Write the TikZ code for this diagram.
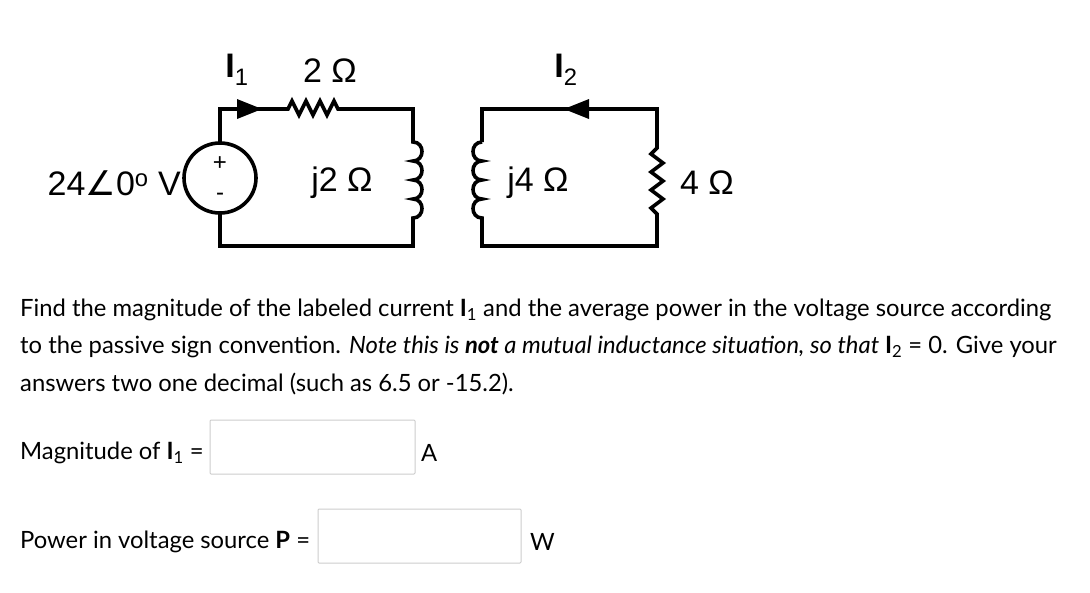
\documentclass[tikz,border=0pt]{standalone}
\usepackage{fontspec}
\setmainfont{Lato}
\newfontfamily\circfont{Liberation Sans}
\newfontfamily\djv{DejaVu Sans}
\begin{document}
\begin{tikzpicture}[x=1pt,y=-1pt,
 wire/.style={line width=3.6pt,line cap=butt,line join=miter},
 ctext/.style={font=\circfont\fontsize{34}{38}\selectfont,inner sep=0},
 stext/.style={font=\circfont\fontsize{24}{28}\selectfont,inner sep=0},
 ptext/.style={font=\fontsize{23.8}{28}\selectfont,anchor=west,inner sep=0},
 ansbox/.style={draw=black!20,line width=1pt,rounded corners=1pt}]
\useasboundingbox (0,0) rectangle (1090,592);
% left loop
\coordinate (s1) at (220,109); \coordinate (s2) at (413,109);
\coordinate (s3) at (413,246); \coordinate (s4) at (220,246);
\coordinate (st) at (220,143); \coordinate (sb) at (220,213);
\draw[wire] (220,178) ellipse (36 and 35);
\draw[wire] (st) -- (s1) -- (288,109) -- (292,101) -- (299,115) -- (306,101) -- (313,115) -- (320,101) -- (327,115) -- (334,101) -- (338,109) -- (s2) -- (413,142)
  .. controls (425,142) and (425,161) .. (413,161)
  .. controls (425,161) and (425,180) .. (413,180)
  .. controls (425,180) and (425,199) .. (413,199)
  .. controls (425,199) and (425,218) .. (413,218)
  -- (s3) -- (s4) -- (sb);
\fill (237,99) -- (262,109) -- (237,119) -- cycle;
\node[stext] at (220,164) {+};
\node[stext] at (220,197) {-};
% right loop
\coordinate (r1) at (482,109); \coordinate (r2) at (657,109);
\coordinate (r3) at (657,246); \coordinate (r4) at (482,246);
\draw[wire] (482,142) -- (r1) -- (r2) -- (657,148) -- (651,154) -- (663,163) -- (651,172) -- (663,181) -- (651,190) -- (663,199) -- (651,208) -- (657,214) -- (r3) -- (r4) -- (482,218)
  .. controls (470,218) and (470,199) .. (482,199)
  .. controls (470,199) and (470,180) .. (482,180)
  .. controls (470,180) and (470,161) .. (482,161)
  .. controls (470,161) and (470,142) .. (482,142);
\fill (589,99) -- (564,109) -- (589,119) -- cycle;
% labels
\node[ctext] (l1) at (237,70) {\textbf{I}\textsubscript{1}};
\node[ctext] (l2) at (330,71) {2 Ω};
\node[ctext] (l3) at (566,70) {\textbf{I}\textsubscript{2}};
\node[ctext] (l4) at (342,183) {j2 Ω};
\node[ctext] (l5) at (538,183) {j4 Ω};
\node[ctext] (l6) at (707,183) {4 Ω};
\node[ctext,anchor=east] (l7) at (181,183) {24{\djv ∠}0\textsuperscript{o} V};
% text
\node[ptext] (t1) at (20,310) {Find the magnitude of the labeled current \textbf{I}\textsubscript{1} and the average power in the voltage source according};
\node[ptext] (t2) at (20,347) {to the passive sign convention. \textit{Note this is \textbf{not} a mutual inductance situation, so that} \textbf{I}\textsubscript{2} = 0. Give your};
\node[ptext] (t3) at (20,384) {answers two one decimal (such as 6.5 or -15.2).};
\node[ptext] (q1) at (20,453) {Magnitude of \textbf{I}\textsubscript{1} =};
\draw[ansbox] (210,420) rectangle (415,474);
\node[ptext] (u1) at (421,453) {A};
\node[ptext] (q2) at (20,542) {Power in voltage source \textbf{P} =};
\draw[ansbox] (318,509) rectangle (521,563);
\node[ptext] (u2) at (530,542) {W};
\end{tikzpicture}
\end{document}
